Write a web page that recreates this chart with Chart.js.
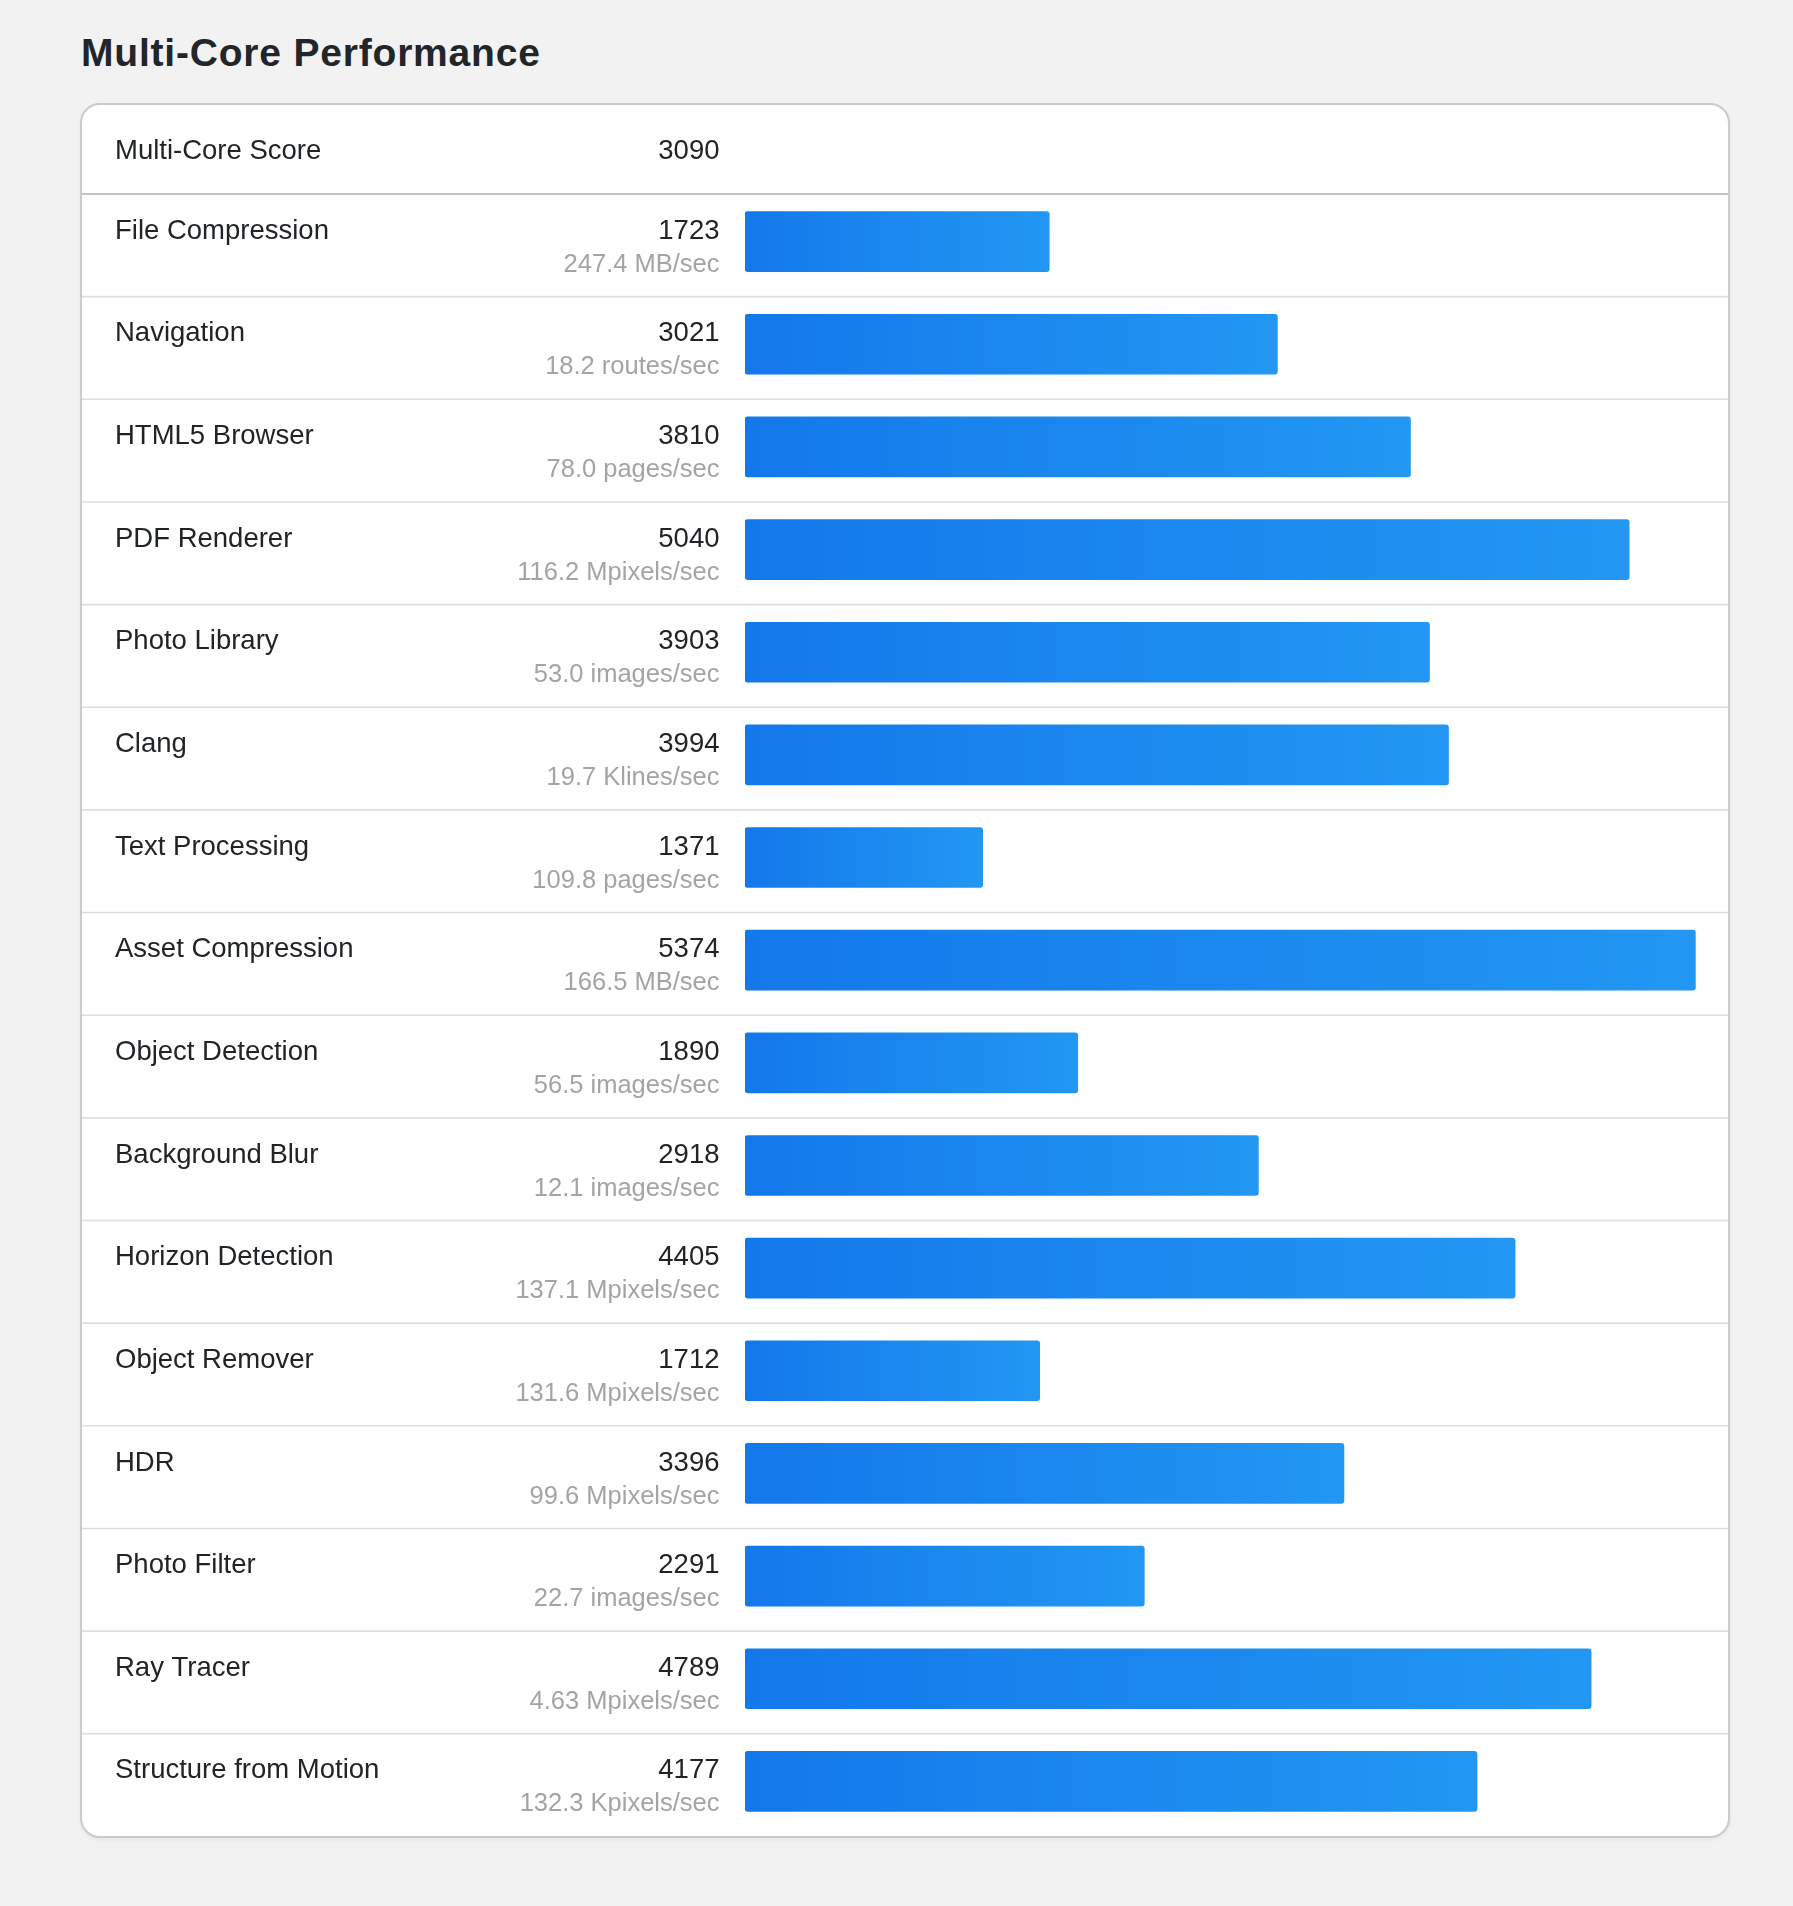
<!DOCTYPE html>
<html>
<head>
<meta charset="utf-8">
<script src="https://cdn.jsdelivr.net/npm/chart.js@4.4.1/dist/chart.umd.min.js"></script>
<style>
  html, body { margin: 0; padding: 0; background: #f2f2f2; }
  body { width: 1793px; height: 1906px; position: relative; overflow: hidden; font-family: "Liberation Sans", Arial, sans-serif; }
  #title { position: absolute; left: 81px; top: 33px; margin: 0; font-size: 39px; line-height: 39px; font-weight: bold; color: #222529; letter-spacing: 0.8px; white-space: nowrap; }
  #card { position: absolute; left: 80px; top: 103px; width: 1646px; height: 1731px; border: 2px solid #cbcbcb; border-radius: 20px; background: #ffffff; box-shadow: 0 2px 4px rgba(0,0,0,0.05); overflow: hidden; }
  #chart { display: block; }
</style>
</head>
<body>
<h1 id="title">Multi-Core Performance</h1>
<div id="card"><canvas id="chart" width="1646" height="1731"></canvas></div>
<script>
// ---- data ----
const titleText = 'Multi-Core Performance';
const headerLabel = 'Multi-Core Score';
const headerScore = '3090';
const names = ['File Compression', 'Navigation', 'HTML5 Browser', 'PDF Renderer', 'Photo Library', 'Clang',
  'Text Processing', 'Asset Compression', 'Object Detection', 'Background Blur', 'Horizon Detection',
  'Object Remover', 'HDR', 'Photo Filter', 'Ray Tracer', 'Structure from Motion'];
const scores = ['1723', '3021', '3810', '5040', '3903', '3994', '1371', '5374', '1890', '2918', '4405',
  '1712', '3396', '2291', '4789', '4177'];
const rates = ['247.4 MB/sec', '18.2 routes/sec', '78.0 pages/sec', '116.2 Mpixels/sec', '53.0 images/sec',
  '19.7 Klines/sec', '109.8 pages/sec', '166.5 MB/sec', '56.5 images/sec', '12.1 images/sec',
  '137.1 Mpixels/sec', '131.6 Mpixels/sec', '99.6 Mpixels/sec', '22.7 images/sec', '4.63 Mpixels/sec',
  '132.3 Kpixels/sec'];
// bar length as percent of the track, as drawn in the reference
const barPercent = [32, 56, 70, 93, 72, 74, 25, 100, 35, 54, 81, 31, 63, 42, 89, 77];
const axisTicks = [0, 100];

const FONT = '"Liberation Sans", Arial, sans-serif';

const tablePlugin = {
  id: 'tableText',
  beforeDatasetsDraw(chart) {
    const c = chart.ctx;
    const ys = chart.scales.y;
    const band = ys.getPixelForValue(1) - ys.getPixelForValue(0);
    const W = chart.width;
    c.save();
    for (let i = 0; i < names.length; i++) {
      const top = ys.getPixelForValue(i) - band / 2 + 3.7;
      c.beginPath();
      if (i === 0) { c.strokeStyle = '#c3c3c3'; c.lineWidth = 2; }
      else { c.strokeStyle = '#dedede'; c.lineWidth = 1.6; }
      c.moveTo(0, top); c.lineTo(W, top); c.stroke();
    }
    // header row
    const hdrBase = ys.getPixelForValue(0) - band / 2 + 3.7 - 35;
    c.fillStyle = '#212427';
    c.font = '27.5px ' + FONT;
    c.textBaseline = 'alphabetic';
    c.textAlign = 'left';
    c.fillText(headerLabel, 33, hdrBase);
    c.textAlign = 'right';
    c.fillText(headerScore, 637.5, hdrBase);
    for (let i = 0; i < names.length; i++) {
      const top = ys.getPixelForValue(i) - band / 2 + 3.7;
      c.fillStyle = '#212427';
      c.font = '27.5px ' + FONT;
      c.textAlign = 'left';
      c.fillText(names[i], 33, top + 44.7);
      c.textAlign = 'right';
      c.fillText(scores[i], 637.5, top + 44.7);
      c.fillStyle = '#a4a4a4';
      c.font = '25.5px ' + FONT;
      c.fillText(rates[i], 637.5, top + 77.7);
    }
    c.restore();
  }
};

function barGradient(ctx) {
  const chart = ctx.chart;
  if (!chart.chartArea || ctx.type !== 'data') return '#1a87ee';
  const xs = chart.scales.x;
  const x0 = xs.getPixelForValue(0);
  const x1 = xs.getPixelForValue(ctx.raw);
  const g = chart.ctx.createLinearGradient(x0, 0, x1, 0);
  g.addColorStop(0, '#1378ea');
  g.addColorStop(1, '#2297f3');
  return g;
}

new Chart(document.getElementById('chart'), {
  type: 'bar',
  data: {
    labels: names,
    datasets: [{
      data: barPercent,
      backgroundColor: barGradient,
      borderWidth: 0,
      borderRadius: 3,
      borderSkipped: false,
      barThickness: 60
    }]
  },
  options: {
    indexAxis: 'y',
    responsive: false,
    animation: false,
    devicePixelRatio: 1,
    layout: { padding: { left: 663, right: 32.3, top: 85.3, bottom: 3.3 } },
    scales: {
      x: { type: 'linear', min: axisTicks[0], max: axisTicks[1], display: false },
      y: { type: 'category', display: false }
    },
    plugins: { legend: { display: false }, tooltip: { enabled: false }, title: { display: false } }
  },
  plugins: [tablePlugin]
});
</script>
</body>
</html>
